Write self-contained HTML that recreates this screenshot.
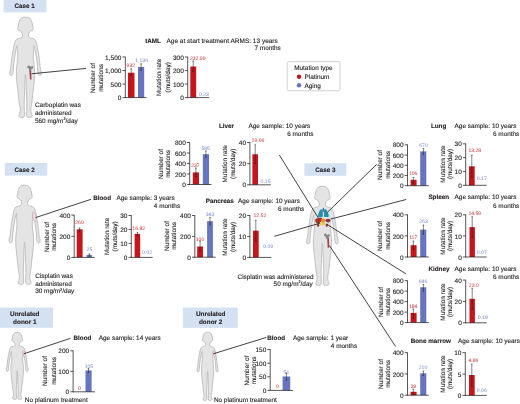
<!DOCTYPE html>
<html lang="en"><head><meta charset="utf-8"><title>Mutation burden figure</title>
<style>
html,body{margin:0;padding:0;background:#fff;}
body{width:520px;height:404px;overflow:hidden;}
svg{display:block;font-family:"Liberation Sans", Arial, Helvetica, sans-serif;text-rendering:geometricPrecision;}
</style></head><body>
<svg width="520" height="404" viewBox="0 0 520 404">
<rect x="0" y="0" width="520" height="404" fill="#ffffff"/>
<rect x="3.60" y="0.00" width="42.80" height="12.40" fill="#d3e1f3"/>
<text x="24.60" y="8.10" font-size="6.3" fill="#231f20" stroke="#231f20" stroke-width="0.12" text-anchor="middle" font-weight="700">Case 1</text>
<rect x="4.80" y="163.00" width="42.40" height="12.60" fill="#d3e1f3"/>
<text x="24.60" y="171.90" font-size="6.3" fill="#231f20" stroke="#231f20" stroke-width="0.12" text-anchor="middle" font-weight="700">Case 2</text>
<rect x="304.40" y="163.30" width="41.90" height="12.50" fill="#d3e1f3"/>
<text x="325.30" y="172.00" font-size="6.3" fill="#231f20" stroke="#231f20" stroke-width="0.12" text-anchor="middle" font-weight="700">Case 3</text>
<rect x="0.00" y="307.50" width="53.00" height="20.30" fill="#d3e1f3"/>
<text x="24.80" y="316.30" font-size="6.4" fill="#231f20" stroke="#231f20" stroke-width="0.12" text-anchor="middle" font-weight="700">Unrelated</text>
<text x="24.80" y="323.90" font-size="6.4" fill="#231f20" stroke="#231f20" stroke-width="0.12" text-anchor="middle" font-weight="700">donor 1</text>
<rect x="182.90" y="307.50" width="54.80" height="20.40" fill="#d3e1f3"/>
<text x="210.70" y="316.30" font-size="6.4" fill="#231f20" stroke="#231f20" stroke-width="0.12" text-anchor="middle" font-weight="700">Unrelated</text>
<text x="210.70" y="323.90" font-size="6.4" fill="#231f20" stroke="#231f20" stroke-width="0.12" text-anchor="middle" font-weight="700">donor 2</text>
<g transform="translate(25.50,17.20) scale(1.0000,1.0000)"><path d="M0.00,0.00C1.07,0.00 2.30,0.00 3.20,0.40C4.10,0.80 4.83,1.55 5.40,2.40C5.97,3.25 6.30,4.48 6.60,5.50C6.90,6.52 7.02,7.55 7.20,8.50C7.38,9.45 7.68,10.48 7.70,11.20C7.72,11.92 7.65,12.40 7.30,12.80C6.95,13.20 6.12,13.30 5.60,13.60C5.08,13.90 4.57,14.20 4.20,14.60C3.83,15.00 3.58,15.47 3.40,16.00C3.22,16.53 3.13,17.23 3.10,17.80C3.07,18.37 2.92,18.92 3.20,19.40C3.48,19.88 4.03,20.35 4.80,20.70C5.57,21.05 6.97,21.12 7.80,21.50C8.63,21.88 9.25,22.17 9.80,23.00C10.35,23.83 10.70,25.00 11.10,26.50C11.50,28.00 11.83,30.08 12.20,32.00C12.57,33.92 12.97,35.83 13.30,38.00C13.63,40.17 13.95,42.83 14.20,45.00C14.45,47.17 14.53,49.40 14.80,51.00C15.07,52.60 15.65,53.57 15.80,54.60C15.95,55.63 15.93,56.57 15.70,57.20C15.47,57.83 14.85,58.37 14.40,58.40C13.95,58.43 13.35,58.05 13.00,57.40C12.65,56.75 12.45,55.65 12.30,54.50C12.15,53.35 12.23,52.08 12.10,50.50C11.97,48.92 11.77,47.08 11.50,45.00C11.23,42.92 10.85,40.17 10.50,38.00C10.15,35.83 9.77,33.58 9.40,32.00C9.03,30.42 8.52,28.33 8.30,28.50C8.08,28.67 8.18,31.08 8.10,33.00C8.02,34.92 7.73,37.67 7.80,40.00C7.87,42.33 8.28,44.67 8.50,47.00C8.72,49.33 9.03,51.50 9.10,54.00C9.17,56.50 9.07,59.33 8.90,62.00C8.73,64.67 8.40,67.33 8.10,70.00C7.80,72.67 7.38,75.50 7.10,78.00C6.82,80.50 6.70,82.67 6.40,85.00C6.10,87.33 5.40,90.17 5.30,92.00C5.20,93.83 5.55,94.90 5.80,96.00C6.05,97.10 6.85,97.93 6.80,98.60C6.75,99.27 6.30,99.77 5.50,100.00C4.70,100.23 2.75,100.33 2.00,100.00C1.25,99.67 1.13,99.17 1.00,98.00C0.87,96.83 1.15,95.17 1.20,93.00C1.25,90.83 1.33,87.50 1.30,85.00C1.27,82.50 1.10,80.83 1.00,78.00C0.90,75.17 0.81,71.00 0.70,68.00C0.59,65.00 0.47,61.75 0.35,60.00C0.23,58.25 0.12,57.50 0.00,57.50C-0.12,57.50 -0.23,58.25 -0.35,60.00C-0.47,61.75 -0.59,65.00 -0.70,68.00C-0.81,71.00 -0.90,75.17 -1.00,78.00C-1.10,80.83 -1.27,82.50 -1.30,85.00C-1.33,87.50 -1.25,90.83 -1.20,93.00C-1.15,95.17 -0.87,96.83 -1.00,98.00C-1.13,99.17 -1.25,99.67 -2.00,100.00C-2.75,100.33 -4.70,100.23 -5.50,100.00C-6.30,99.77 -6.75,99.27 -6.80,98.60C-6.85,97.93 -6.05,97.10 -5.80,96.00C-5.55,94.90 -5.20,93.83 -5.30,92.00C-5.40,90.17 -6.10,87.33 -6.40,85.00C-6.70,82.67 -6.82,80.50 -7.10,78.00C-7.38,75.50 -7.80,72.67 -8.10,70.00C-8.40,67.33 -8.73,64.67 -8.90,62.00C-9.07,59.33 -9.17,56.50 -9.10,54.00C-9.03,51.50 -8.72,49.33 -8.50,47.00C-8.28,44.67 -7.87,42.33 -7.80,40.00C-7.73,37.67 -8.02,34.92 -8.10,33.00C-8.18,31.08 -8.08,28.67 -8.30,28.50C-8.52,28.33 -9.03,30.42 -9.40,32.00C-9.77,33.58 -10.15,35.83 -10.50,38.00C-10.85,40.17 -11.23,42.92 -11.50,45.00C-11.77,47.08 -11.97,48.92 -12.10,50.50C-12.23,52.08 -12.15,53.35 -12.30,54.50C-12.45,55.65 -12.65,56.75 -13.00,57.40C-13.35,58.05 -13.95,58.43 -14.40,58.40C-14.85,58.37 -15.47,57.83 -15.70,57.20C-15.93,56.57 -15.95,55.63 -15.80,54.60C-15.65,53.57 -15.07,52.60 -14.80,51.00C-14.53,49.40 -14.45,47.17 -14.20,45.00C-13.95,42.83 -13.63,40.17 -13.30,38.00C-12.97,35.83 -12.57,33.92 -12.20,32.00C-11.83,30.08 -11.50,28.00 -11.10,26.50C-10.70,25.00 -10.35,23.83 -9.80,23.00C-9.25,22.17 -8.63,21.88 -7.80,21.50C-6.97,21.12 -5.57,21.05 -4.80,20.70C-4.03,20.35 -3.48,19.88 -3.20,19.40C-2.92,18.92 -3.07,18.37 -3.10,17.80C-3.13,17.23 -3.22,16.53 -3.40,16.00C-3.58,15.47 -3.83,15.00 -4.20,14.60C-4.57,14.20 -5.08,13.90 -5.60,13.60C-6.12,13.30 -6.95,13.20 -7.30,12.80C-7.65,12.40 -7.72,11.92 -7.70,11.20C-7.68,10.48 -7.38,9.45 -7.20,8.50C-7.02,7.55 -6.90,6.52 -6.60,5.50C-6.30,4.48 -5.97,3.25 -5.40,2.40C-4.83,1.55 -4.10,0.80 -3.20,0.40C-2.30,0.00 -1.07,0.00 0.00,0.00Z" fill="#e4e4e4" stroke="#adadad" stroke-width="0.7" vector-effect="non-scaling-stroke" stroke-linejoin="round"/></g>
<g transform="translate(27.20,65.20) scale(1.0)"><path transform="translate(0.0,0)" d="M2.1,4.2 L3.9,4.2 L4.3,14.4 L2.7,14.4Z" fill="#a9414a"/><path d="M0.1,1.3 q0.7,-1.5 2.2,-0.7 q0.9,0.9 1.6,0.9 q0.8,-1.1 1.9,-0.3 q0.5,1.1 -0.3,2.0 l-1.5,1.2 l0,1.1 l-1.9,0 l-0.2,-1.2 q-0.2,-1.2 -1.1,-1.5 q-1,-0.5 -0.7,-1.5z" fill="#858585"/></g>
<g transform="translate(24.60,185.30) scale(0.9800,0.9880)"><path d="M0.00,0.00C1.07,0.00 2.30,0.00 3.20,0.40C4.10,0.80 4.83,1.55 5.40,2.40C5.97,3.25 6.30,4.48 6.60,5.50C6.90,6.52 7.02,7.55 7.20,8.50C7.38,9.45 7.68,10.48 7.70,11.20C7.72,11.92 7.65,12.40 7.30,12.80C6.95,13.20 6.12,13.30 5.60,13.60C5.08,13.90 4.57,14.20 4.20,14.60C3.83,15.00 3.58,15.47 3.40,16.00C3.22,16.53 3.13,17.23 3.10,17.80C3.07,18.37 2.92,18.92 3.20,19.40C3.48,19.88 4.03,20.35 4.80,20.70C5.57,21.05 6.97,21.12 7.80,21.50C8.63,21.88 9.25,22.17 9.80,23.00C10.35,23.83 10.70,25.00 11.10,26.50C11.50,28.00 11.83,30.08 12.20,32.00C12.57,33.92 12.97,35.83 13.30,38.00C13.63,40.17 13.95,42.83 14.20,45.00C14.45,47.17 14.53,49.40 14.80,51.00C15.07,52.60 15.65,53.57 15.80,54.60C15.95,55.63 15.93,56.57 15.70,57.20C15.47,57.83 14.85,58.37 14.40,58.40C13.95,58.43 13.35,58.05 13.00,57.40C12.65,56.75 12.45,55.65 12.30,54.50C12.15,53.35 12.23,52.08 12.10,50.50C11.97,48.92 11.77,47.08 11.50,45.00C11.23,42.92 10.85,40.17 10.50,38.00C10.15,35.83 9.77,33.58 9.40,32.00C9.03,30.42 8.52,28.33 8.30,28.50C8.08,28.67 8.18,31.08 8.10,33.00C8.02,34.92 7.73,37.67 7.80,40.00C7.87,42.33 8.28,44.67 8.50,47.00C8.72,49.33 9.03,51.50 9.10,54.00C9.17,56.50 9.07,59.33 8.90,62.00C8.73,64.67 8.40,67.33 8.10,70.00C7.80,72.67 7.38,75.50 7.10,78.00C6.82,80.50 6.70,82.67 6.40,85.00C6.10,87.33 5.40,90.17 5.30,92.00C5.20,93.83 5.55,94.90 5.80,96.00C6.05,97.10 6.85,97.93 6.80,98.60C6.75,99.27 6.30,99.77 5.50,100.00C4.70,100.23 2.75,100.33 2.00,100.00C1.25,99.67 1.13,99.17 1.00,98.00C0.87,96.83 1.15,95.17 1.20,93.00C1.25,90.83 1.33,87.50 1.30,85.00C1.27,82.50 1.10,80.83 1.00,78.00C0.90,75.17 0.81,71.00 0.70,68.00C0.59,65.00 0.47,61.75 0.35,60.00C0.23,58.25 0.12,57.50 0.00,57.50C-0.12,57.50 -0.23,58.25 -0.35,60.00C-0.47,61.75 -0.59,65.00 -0.70,68.00C-0.81,71.00 -0.90,75.17 -1.00,78.00C-1.10,80.83 -1.27,82.50 -1.30,85.00C-1.33,87.50 -1.25,90.83 -1.20,93.00C-1.15,95.17 -0.87,96.83 -1.00,98.00C-1.13,99.17 -1.25,99.67 -2.00,100.00C-2.75,100.33 -4.70,100.23 -5.50,100.00C-6.30,99.77 -6.75,99.27 -6.80,98.60C-6.85,97.93 -6.05,97.10 -5.80,96.00C-5.55,94.90 -5.20,93.83 -5.30,92.00C-5.40,90.17 -6.10,87.33 -6.40,85.00C-6.70,82.67 -6.82,80.50 -7.10,78.00C-7.38,75.50 -7.80,72.67 -8.10,70.00C-8.40,67.33 -8.73,64.67 -8.90,62.00C-9.07,59.33 -9.17,56.50 -9.10,54.00C-9.03,51.50 -8.72,49.33 -8.50,47.00C-8.28,44.67 -7.87,42.33 -7.80,40.00C-7.73,37.67 -8.02,34.92 -8.10,33.00C-8.18,31.08 -8.08,28.67 -8.30,28.50C-8.52,28.33 -9.03,30.42 -9.40,32.00C-9.77,33.58 -10.15,35.83 -10.50,38.00C-10.85,40.17 -11.23,42.92 -11.50,45.00C-11.77,47.08 -11.97,48.92 -12.10,50.50C-12.23,52.08 -12.15,53.35 -12.30,54.50C-12.45,55.65 -12.65,56.75 -13.00,57.40C-13.35,58.05 -13.95,58.43 -14.40,58.40C-14.85,58.37 -15.47,57.83 -15.70,57.20C-15.93,56.57 -15.95,55.63 -15.80,54.60C-15.65,53.57 -15.07,52.60 -14.80,51.00C-14.53,49.40 -14.45,47.17 -14.20,45.00C-13.95,42.83 -13.63,40.17 -13.30,38.00C-12.97,35.83 -12.57,33.92 -12.20,32.00C-11.83,30.08 -11.50,28.00 -11.10,26.50C-10.70,25.00 -10.35,23.83 -9.80,23.00C-9.25,22.17 -8.63,21.88 -7.80,21.50C-6.97,21.12 -5.57,21.05 -4.80,20.70C-4.03,20.35 -3.48,19.88 -3.20,19.40C-2.92,18.92 -3.07,18.37 -3.10,17.80C-3.13,17.23 -3.22,16.53 -3.40,16.00C-3.58,15.47 -3.83,15.00 -4.20,14.60C-4.57,14.20 -5.08,13.90 -5.60,13.60C-6.12,13.30 -6.95,13.20 -7.30,12.80C-7.65,12.40 -7.72,11.92 -7.70,11.20C-7.68,10.48 -7.38,9.45 -7.20,8.50C-7.02,7.55 -6.90,6.52 -6.60,5.50C-6.30,4.48 -5.97,3.25 -5.40,2.40C-4.83,1.55 -4.10,0.80 -3.20,0.40C-2.30,0.00 -1.07,0.00 0.00,0.00Z" fill="#e4e4e4" stroke="#adadad" stroke-width="0.7" vector-effect="non-scaling-stroke" stroke-linejoin="round"/><ellipse cx="9.9" cy="31.8" rx="1.5" ry="5.2" transform="rotate(-9 9.9 31.8)" fill="#eedde1" stroke="#d890a2" stroke-width="0.45" vector-effect="non-scaling-stroke"/></g>
<g transform="translate(17.20,332.50) scale(0.6900,0.6670)"><path d="M0.00,0.00C1.07,0.00 2.30,0.00 3.20,0.40C4.10,0.80 4.83,1.55 5.40,2.40C5.97,3.25 6.30,4.48 6.60,5.50C6.90,6.52 7.02,7.55 7.20,8.50C7.38,9.45 7.68,10.48 7.70,11.20C7.72,11.92 7.65,12.40 7.30,12.80C6.95,13.20 6.12,13.30 5.60,13.60C5.08,13.90 4.57,14.20 4.20,14.60C3.83,15.00 3.58,15.47 3.40,16.00C3.22,16.53 3.13,17.23 3.10,17.80C3.07,18.37 2.92,18.92 3.20,19.40C3.48,19.88 4.03,20.35 4.80,20.70C5.57,21.05 6.97,21.12 7.80,21.50C8.63,21.88 9.25,22.17 9.80,23.00C10.35,23.83 10.70,25.00 11.10,26.50C11.50,28.00 11.83,30.08 12.20,32.00C12.57,33.92 12.97,35.83 13.30,38.00C13.63,40.17 13.95,42.83 14.20,45.00C14.45,47.17 14.53,49.40 14.80,51.00C15.07,52.60 15.65,53.57 15.80,54.60C15.95,55.63 15.93,56.57 15.70,57.20C15.47,57.83 14.85,58.37 14.40,58.40C13.95,58.43 13.35,58.05 13.00,57.40C12.65,56.75 12.45,55.65 12.30,54.50C12.15,53.35 12.23,52.08 12.10,50.50C11.97,48.92 11.77,47.08 11.50,45.00C11.23,42.92 10.85,40.17 10.50,38.00C10.15,35.83 9.77,33.58 9.40,32.00C9.03,30.42 8.52,28.33 8.30,28.50C8.08,28.67 8.18,31.08 8.10,33.00C8.02,34.92 7.73,37.67 7.80,40.00C7.87,42.33 8.28,44.67 8.50,47.00C8.72,49.33 9.03,51.50 9.10,54.00C9.17,56.50 9.07,59.33 8.90,62.00C8.73,64.67 8.40,67.33 8.10,70.00C7.80,72.67 7.38,75.50 7.10,78.00C6.82,80.50 6.70,82.67 6.40,85.00C6.10,87.33 5.40,90.17 5.30,92.00C5.20,93.83 5.55,94.90 5.80,96.00C6.05,97.10 6.85,97.93 6.80,98.60C6.75,99.27 6.30,99.77 5.50,100.00C4.70,100.23 2.75,100.33 2.00,100.00C1.25,99.67 1.13,99.17 1.00,98.00C0.87,96.83 1.15,95.17 1.20,93.00C1.25,90.83 1.33,87.50 1.30,85.00C1.27,82.50 1.10,80.83 1.00,78.00C0.90,75.17 0.81,71.00 0.70,68.00C0.59,65.00 0.47,61.75 0.35,60.00C0.23,58.25 0.12,57.50 0.00,57.50C-0.12,57.50 -0.23,58.25 -0.35,60.00C-0.47,61.75 -0.59,65.00 -0.70,68.00C-0.81,71.00 -0.90,75.17 -1.00,78.00C-1.10,80.83 -1.27,82.50 -1.30,85.00C-1.33,87.50 -1.25,90.83 -1.20,93.00C-1.15,95.17 -0.87,96.83 -1.00,98.00C-1.13,99.17 -1.25,99.67 -2.00,100.00C-2.75,100.33 -4.70,100.23 -5.50,100.00C-6.30,99.77 -6.75,99.27 -6.80,98.60C-6.85,97.93 -6.05,97.10 -5.80,96.00C-5.55,94.90 -5.20,93.83 -5.30,92.00C-5.40,90.17 -6.10,87.33 -6.40,85.00C-6.70,82.67 -6.82,80.50 -7.10,78.00C-7.38,75.50 -7.80,72.67 -8.10,70.00C-8.40,67.33 -8.73,64.67 -8.90,62.00C-9.07,59.33 -9.17,56.50 -9.10,54.00C-9.03,51.50 -8.72,49.33 -8.50,47.00C-8.28,44.67 -7.87,42.33 -7.80,40.00C-7.73,37.67 -8.02,34.92 -8.10,33.00C-8.18,31.08 -8.08,28.67 -8.30,28.50C-8.52,28.33 -9.03,30.42 -9.40,32.00C-9.77,33.58 -10.15,35.83 -10.50,38.00C-10.85,40.17 -11.23,42.92 -11.50,45.00C-11.77,47.08 -11.97,48.92 -12.10,50.50C-12.23,52.08 -12.15,53.35 -12.30,54.50C-12.45,55.65 -12.65,56.75 -13.00,57.40C-13.35,58.05 -13.95,58.43 -14.40,58.40C-14.85,58.37 -15.47,57.83 -15.70,57.20C-15.93,56.57 -15.95,55.63 -15.80,54.60C-15.65,53.57 -15.07,52.60 -14.80,51.00C-14.53,49.40 -14.45,47.17 -14.20,45.00C-13.95,42.83 -13.63,40.17 -13.30,38.00C-12.97,35.83 -12.57,33.92 -12.20,32.00C-11.83,30.08 -11.50,28.00 -11.10,26.50C-10.70,25.00 -10.35,23.83 -9.80,23.00C-9.25,22.17 -8.63,21.88 -7.80,21.50C-6.97,21.12 -5.57,21.05 -4.80,20.70C-4.03,20.35 -3.48,19.88 -3.20,19.40C-2.92,18.92 -3.07,18.37 -3.10,17.80C-3.13,17.23 -3.22,16.53 -3.40,16.00C-3.58,15.47 -3.83,15.00 -4.20,14.60C-4.57,14.20 -5.08,13.90 -5.60,13.60C-6.12,13.30 -6.95,13.20 -7.30,12.80C-7.65,12.40 -7.72,11.92 -7.70,11.20C-7.68,10.48 -7.38,9.45 -7.20,8.50C-7.02,7.55 -6.90,6.52 -6.60,5.50C-6.30,4.48 -5.97,3.25 -5.40,2.40C-4.83,1.55 -4.10,0.80 -3.20,0.40C-2.30,0.00 -1.07,0.00 0.00,0.00Z" fill="#e4e4e4" stroke="#adadad" stroke-width="0.7" vector-effect="non-scaling-stroke" stroke-linejoin="round"/><ellipse cx="9.9" cy="31.8" rx="1.5" ry="5.2" transform="rotate(-9 9.9 31.8)" fill="#eedde1" stroke="#d890a2" stroke-width="0.45" vector-effect="non-scaling-stroke"/></g>
<g transform="translate(207.60,332.30) scale(0.6700,0.6800)"><path d="M0.00,0.00C1.07,0.00 2.30,0.00 3.20,0.40C4.10,0.80 4.83,1.55 5.40,2.40C5.97,3.25 6.30,4.48 6.60,5.50C6.90,6.52 7.02,7.55 7.20,8.50C7.38,9.45 7.68,10.48 7.70,11.20C7.72,11.92 7.65,12.40 7.30,12.80C6.95,13.20 6.12,13.30 5.60,13.60C5.08,13.90 4.57,14.20 4.20,14.60C3.83,15.00 3.58,15.47 3.40,16.00C3.22,16.53 3.13,17.23 3.10,17.80C3.07,18.37 2.92,18.92 3.20,19.40C3.48,19.88 4.03,20.35 4.80,20.70C5.57,21.05 6.97,21.12 7.80,21.50C8.63,21.88 9.25,22.17 9.80,23.00C10.35,23.83 10.70,25.00 11.10,26.50C11.50,28.00 11.83,30.08 12.20,32.00C12.57,33.92 12.97,35.83 13.30,38.00C13.63,40.17 13.95,42.83 14.20,45.00C14.45,47.17 14.53,49.40 14.80,51.00C15.07,52.60 15.65,53.57 15.80,54.60C15.95,55.63 15.93,56.57 15.70,57.20C15.47,57.83 14.85,58.37 14.40,58.40C13.95,58.43 13.35,58.05 13.00,57.40C12.65,56.75 12.45,55.65 12.30,54.50C12.15,53.35 12.23,52.08 12.10,50.50C11.97,48.92 11.77,47.08 11.50,45.00C11.23,42.92 10.85,40.17 10.50,38.00C10.15,35.83 9.77,33.58 9.40,32.00C9.03,30.42 8.52,28.33 8.30,28.50C8.08,28.67 8.18,31.08 8.10,33.00C8.02,34.92 7.73,37.67 7.80,40.00C7.87,42.33 8.28,44.67 8.50,47.00C8.72,49.33 9.03,51.50 9.10,54.00C9.17,56.50 9.07,59.33 8.90,62.00C8.73,64.67 8.40,67.33 8.10,70.00C7.80,72.67 7.38,75.50 7.10,78.00C6.82,80.50 6.70,82.67 6.40,85.00C6.10,87.33 5.40,90.17 5.30,92.00C5.20,93.83 5.55,94.90 5.80,96.00C6.05,97.10 6.85,97.93 6.80,98.60C6.75,99.27 6.30,99.77 5.50,100.00C4.70,100.23 2.75,100.33 2.00,100.00C1.25,99.67 1.13,99.17 1.00,98.00C0.87,96.83 1.15,95.17 1.20,93.00C1.25,90.83 1.33,87.50 1.30,85.00C1.27,82.50 1.10,80.83 1.00,78.00C0.90,75.17 0.81,71.00 0.70,68.00C0.59,65.00 0.47,61.75 0.35,60.00C0.23,58.25 0.12,57.50 0.00,57.50C-0.12,57.50 -0.23,58.25 -0.35,60.00C-0.47,61.75 -0.59,65.00 -0.70,68.00C-0.81,71.00 -0.90,75.17 -1.00,78.00C-1.10,80.83 -1.27,82.50 -1.30,85.00C-1.33,87.50 -1.25,90.83 -1.20,93.00C-1.15,95.17 -0.87,96.83 -1.00,98.00C-1.13,99.17 -1.25,99.67 -2.00,100.00C-2.75,100.33 -4.70,100.23 -5.50,100.00C-6.30,99.77 -6.75,99.27 -6.80,98.60C-6.85,97.93 -6.05,97.10 -5.80,96.00C-5.55,94.90 -5.20,93.83 -5.30,92.00C-5.40,90.17 -6.10,87.33 -6.40,85.00C-6.70,82.67 -6.82,80.50 -7.10,78.00C-7.38,75.50 -7.80,72.67 -8.10,70.00C-8.40,67.33 -8.73,64.67 -8.90,62.00C-9.07,59.33 -9.17,56.50 -9.10,54.00C-9.03,51.50 -8.72,49.33 -8.50,47.00C-8.28,44.67 -7.87,42.33 -7.80,40.00C-7.73,37.67 -8.02,34.92 -8.10,33.00C-8.18,31.08 -8.08,28.67 -8.30,28.50C-8.52,28.33 -9.03,30.42 -9.40,32.00C-9.77,33.58 -10.15,35.83 -10.50,38.00C-10.85,40.17 -11.23,42.92 -11.50,45.00C-11.77,47.08 -11.97,48.92 -12.10,50.50C-12.23,52.08 -12.15,53.35 -12.30,54.50C-12.45,55.65 -12.65,56.75 -13.00,57.40C-13.35,58.05 -13.95,58.43 -14.40,58.40C-14.85,58.37 -15.47,57.83 -15.70,57.20C-15.93,56.57 -15.95,55.63 -15.80,54.60C-15.65,53.57 -15.07,52.60 -14.80,51.00C-14.53,49.40 -14.45,47.17 -14.20,45.00C-13.95,42.83 -13.63,40.17 -13.30,38.00C-12.97,35.83 -12.57,33.92 -12.20,32.00C-11.83,30.08 -11.50,28.00 -11.10,26.50C-10.70,25.00 -10.35,23.83 -9.80,23.00C-9.25,22.17 -8.63,21.88 -7.80,21.50C-6.97,21.12 -5.57,21.05 -4.80,20.70C-4.03,20.35 -3.48,19.88 -3.20,19.40C-2.92,18.92 -3.07,18.37 -3.10,17.80C-3.13,17.23 -3.22,16.53 -3.40,16.00C-3.58,15.47 -3.83,15.00 -4.20,14.60C-4.57,14.20 -5.08,13.90 -5.60,13.60C-6.12,13.30 -6.95,13.20 -7.30,12.80C-7.65,12.40 -7.72,11.92 -7.70,11.20C-7.68,10.48 -7.38,9.45 -7.20,8.50C-7.02,7.55 -6.90,6.52 -6.60,5.50C-6.30,4.48 -5.97,3.25 -5.40,2.40C-4.83,1.55 -4.10,0.80 -3.20,0.40C-2.30,0.00 -1.07,0.00 0.00,0.00Z" fill="#e4e4e4" stroke="#adadad" stroke-width="0.7" vector-effect="non-scaling-stroke" stroke-linejoin="round"/><ellipse cx="9.9" cy="31.8" rx="1.5" ry="5.2" transform="rotate(-9 9.9 31.8)" fill="#eedde1" stroke="#d890a2" stroke-width="0.45" vector-effect="non-scaling-stroke"/></g>
<g transform="translate(322.40,186.40) scale(1.0000,0.9880)"><path d="M0.00,0.00C1.07,0.00 2.30,0.00 3.20,0.40C4.10,0.80 4.83,1.55 5.40,2.40C5.97,3.25 6.30,4.48 6.60,5.50C6.90,6.52 7.02,7.55 7.20,8.50C7.38,9.45 7.68,10.48 7.70,11.20C7.72,11.92 7.65,12.40 7.30,12.80C6.95,13.20 6.12,13.30 5.60,13.60C5.08,13.90 4.57,14.20 4.20,14.60C3.83,15.00 3.58,15.47 3.40,16.00C3.22,16.53 3.13,17.23 3.10,17.80C3.07,18.37 2.92,18.92 3.20,19.40C3.48,19.88 4.03,20.35 4.80,20.70C5.57,21.05 6.97,21.12 7.80,21.50C8.63,21.88 9.25,22.17 9.80,23.00C10.35,23.83 10.70,25.00 11.10,26.50C11.50,28.00 11.83,30.08 12.20,32.00C12.57,33.92 12.97,35.83 13.30,38.00C13.63,40.17 13.95,42.83 14.20,45.00C14.45,47.17 14.53,49.40 14.80,51.00C15.07,52.60 15.65,53.57 15.80,54.60C15.95,55.63 15.93,56.57 15.70,57.20C15.47,57.83 14.85,58.37 14.40,58.40C13.95,58.43 13.35,58.05 13.00,57.40C12.65,56.75 12.45,55.65 12.30,54.50C12.15,53.35 12.23,52.08 12.10,50.50C11.97,48.92 11.77,47.08 11.50,45.00C11.23,42.92 10.85,40.17 10.50,38.00C10.15,35.83 9.77,33.58 9.40,32.00C9.03,30.42 8.52,28.33 8.30,28.50C8.08,28.67 8.18,31.08 8.10,33.00C8.02,34.92 7.73,37.67 7.80,40.00C7.87,42.33 8.28,44.67 8.50,47.00C8.72,49.33 9.03,51.50 9.10,54.00C9.17,56.50 9.07,59.33 8.90,62.00C8.73,64.67 8.40,67.33 8.10,70.00C7.80,72.67 7.38,75.50 7.10,78.00C6.82,80.50 6.70,82.67 6.40,85.00C6.10,87.33 5.40,90.17 5.30,92.00C5.20,93.83 5.55,94.90 5.80,96.00C6.05,97.10 6.85,97.93 6.80,98.60C6.75,99.27 6.30,99.77 5.50,100.00C4.70,100.23 2.75,100.33 2.00,100.00C1.25,99.67 1.13,99.17 1.00,98.00C0.87,96.83 1.15,95.17 1.20,93.00C1.25,90.83 1.33,87.50 1.30,85.00C1.27,82.50 1.10,80.83 1.00,78.00C0.90,75.17 0.81,71.00 0.70,68.00C0.59,65.00 0.47,61.75 0.35,60.00C0.23,58.25 0.12,57.50 0.00,57.50C-0.12,57.50 -0.23,58.25 -0.35,60.00C-0.47,61.75 -0.59,65.00 -0.70,68.00C-0.81,71.00 -0.90,75.17 -1.00,78.00C-1.10,80.83 -1.27,82.50 -1.30,85.00C-1.33,87.50 -1.25,90.83 -1.20,93.00C-1.15,95.17 -0.87,96.83 -1.00,98.00C-1.13,99.17 -1.25,99.67 -2.00,100.00C-2.75,100.33 -4.70,100.23 -5.50,100.00C-6.30,99.77 -6.75,99.27 -6.80,98.60C-6.85,97.93 -6.05,97.10 -5.80,96.00C-5.55,94.90 -5.20,93.83 -5.30,92.00C-5.40,90.17 -6.10,87.33 -6.40,85.00C-6.70,82.67 -6.82,80.50 -7.10,78.00C-7.38,75.50 -7.80,72.67 -8.10,70.00C-8.40,67.33 -8.73,64.67 -8.90,62.00C-9.07,59.33 -9.17,56.50 -9.10,54.00C-9.03,51.50 -8.72,49.33 -8.50,47.00C-8.28,44.67 -7.87,42.33 -7.80,40.00C-7.73,37.67 -8.02,34.92 -8.10,33.00C-8.18,31.08 -8.08,28.67 -8.30,28.50C-8.52,28.33 -9.03,30.42 -9.40,32.00C-9.77,33.58 -10.15,35.83 -10.50,38.00C-10.85,40.17 -11.23,42.92 -11.50,45.00C-11.77,47.08 -11.97,48.92 -12.10,50.50C-12.23,52.08 -12.15,53.35 -12.30,54.50C-12.45,55.65 -12.65,56.75 -13.00,57.40C-13.35,58.05 -13.95,58.43 -14.40,58.40C-14.85,58.37 -15.47,57.83 -15.70,57.20C-15.93,56.57 -15.95,55.63 -15.80,54.60C-15.65,53.57 -15.07,52.60 -14.80,51.00C-14.53,49.40 -14.45,47.17 -14.20,45.00C-13.95,42.83 -13.63,40.17 -13.30,38.00C-12.97,35.83 -12.57,33.92 -12.20,32.00C-11.83,30.08 -11.50,28.00 -11.10,26.50C-10.70,25.00 -10.35,23.83 -9.80,23.00C-9.25,22.17 -8.63,21.88 -7.80,21.50C-6.97,21.12 -5.57,21.05 -4.80,20.70C-4.03,20.35 -3.48,19.88 -3.20,19.40C-2.92,18.92 -3.07,18.37 -3.10,17.80C-3.13,17.23 -3.22,16.53 -3.40,16.00C-3.58,15.47 -3.83,15.00 -4.20,14.60C-4.57,14.20 -5.08,13.90 -5.60,13.60C-6.12,13.30 -6.95,13.20 -7.30,12.80C-7.65,12.40 -7.72,11.92 -7.70,11.20C-7.68,10.48 -7.38,9.45 -7.20,8.50C-7.02,7.55 -6.90,6.52 -6.60,5.50C-6.30,4.48 -5.97,3.25 -5.40,2.40C-4.83,1.55 -4.10,0.80 -3.20,0.40C-2.30,0.00 -1.07,0.00 0.00,0.00Z" fill="#e4e4e4" stroke="#adadad" stroke-width="0.7" vector-effect="non-scaling-stroke" stroke-linejoin="round"/></g>
<path d="M322.7,209.0 C320.4,209.2 318.4,211.8 317.9,216.6 C319.6,217.4 321.6,217.2 322.8,216.5ZM324.1,209.0 C326.4,209.2 328.4,211.8 328.9,216.6 C327.2,217.4 325.2,217.2 324.0,216.5Z" fill="#c5e6ec" stroke="#c5e6ec" stroke-width="1.6" stroke-linejoin="round"/>
<path d="M329.6,212.4 q2.6,1.2 3.2,4.8 l-2.6,0.6z" fill="#d4ecef"/>
<path d="M316.8,212.4 q-2.4,1.2 -3,4.8 l2.4,0.6z" fill="#f3dede"/>
<path d="M322.7,209.0 C320.4,209.2 318.4,211.8 317.9,216.6 C319.6,217.4 321.6,217.2 322.8,216.5ZM324.1,209.0 C326.4,209.2 328.4,211.8 328.9,216.6 C327.2,217.4 325.2,217.2 324.0,216.5Z" fill="#2a8ba6"/>
<rect x="322.95" y="207.8" width="0.9" height="4" fill="#1f6f88"/>
<path d="M315.2,219.4 C317,217.6 320,217.4 322,218 C322.4,220.4 321,222.6 318.4,223.4 C316.4,223.6 315,222 315.2,219.4Z" fill="#a6322a"/>
<ellipse cx="323.2" cy="220.7" rx="2.2" ry="2.3" fill="#e8902c"/>
<ellipse cx="322.7" cy="223.9" rx="2.8" ry="1.3" fill="#f2c84b"/>
<ellipse cx="328.0" cy="220.6" rx="2.4" ry="1.8" fill="#8b2f3c"/>
<ellipse cx="318.1" cy="225.2" rx="1.15" ry="1.6" fill="#8c3b2c"/>
<ellipse cx="326.8" cy="225.2" rx="1.15" ry="1.6" fill="#8c3b2c"/>
<g transform="translate(323.90,233.30) scale(1.0)"><path transform="translate(1.1,0)" d="M2.1,4.2 L3.9,4.2 L4.3,14.4 L2.7,14.4Z" fill="#a9414a"/><path d="M0.1,1.3 q0.7,-1.5 2.2,-0.7 q0.9,0.9 1.6,0.9 q0.8,-1.1 1.9,-0.3 q0.5,1.1 -0.3,2.0 l-1.5,1.2 l0,1.1 l-1.9,0 l-0.2,-1.2 q-0.2,-1.2 -1.1,-1.5 q-1,-0.5 -0.7,-1.5z" fill="#858585"/></g>
<line x1="31.60" y1="73.80" x2="86.00" y2="68.40" stroke="#231f20" stroke-width="0.85" stroke-linecap="butt"/>
<line x1="35.60" y1="217.60" x2="91.00" y2="199.30" stroke="#231f20" stroke-width="0.85" stroke-linecap="butt"/>
<line x1="23.80" y1="353.80" x2="70.30" y2="338.40" stroke="#231f20" stroke-width="0.85" stroke-linecap="butt"/>
<line x1="213.30" y1="353.80" x2="266.40" y2="337.40" stroke="#231f20" stroke-width="0.85" stroke-linecap="butt"/>
<line x1="279.30" y1="154.90" x2="318.20" y2="217.80" stroke="#231f20" stroke-width="0.85" stroke-linecap="butt"/>
<line x1="274.30" y1="236.30" x2="320.00" y2="223.20" stroke="#231f20" stroke-width="0.85" stroke-linecap="butt"/>
<line x1="327.50" y1="212.30" x2="376.70" y2="164.30" stroke="#231f20" stroke-width="0.85" stroke-linecap="butt"/>
<line x1="331.00" y1="219.00" x2="406.20" y2="199.50" stroke="#231f20" stroke-width="0.85" stroke-linecap="butt"/>
<line x1="327.00" y1="224.40" x2="406.20" y2="274.00" stroke="#231f20" stroke-width="0.85" stroke-linecap="butt"/>
<line x1="329.50" y1="245.60" x2="395.60" y2="346.50" stroke="#231f20" stroke-width="0.85" stroke-linecap="butt"/>
<text x="35.00" y="107.00" font-size="6.4" fill="#231f20" stroke="#231f20" stroke-width="0.12" text-anchor="start">Carboplatin was</text>
<text x="35.00" y="114.80" font-size="6.4" fill="#231f20" stroke="#231f20" stroke-width="0.12" text-anchor="start">administered</text>
<text x="35" y="122.5" font-size="6.4" fill="#231f20" stroke="#231f20" stroke-width="0.12">560 mg/m<tspan font-size="3.8" dy="-2.4">2</tspan><tspan dy="2.4">/day</tspan></text>
<text x="35.20" y="277.90" font-size="6.4" fill="#231f20" stroke="#231f20" stroke-width="0.12" text-anchor="start">Cisplatin was</text>
<text x="35.20" y="285.60" font-size="6.4" fill="#231f20" stroke="#231f20" stroke-width="0.12" text-anchor="start">administered</text>
<text x="35.2" y="293.1" font-size="6.4" fill="#231f20" stroke="#231f20" stroke-width="0.12">30 mg/m<tspan font-size="3.8" dy="-2.4">2</tspan><tspan dy="2.4">/day</tspan></text>
<text x="313.60" y="278.50" font-size="6.4" fill="#231f20" stroke="#231f20" stroke-width="0.12" text-anchor="end">Cisplatin was administered</text>
<text x="273.6" y="285.8" font-size="6.4" fill="#231f20" stroke="#231f20" stroke-width="0.12">50 mg/m<tspan font-size="3.8" dy="-2.4">2</tspan><tspan dy="2.4">/day</tspan></text>
<text x="24.80" y="402.20" font-size="6.4" fill="#231f20" stroke="#231f20" stroke-width="0.12" text-anchor="start">No platinum treatment</text>
<text x="213.90" y="401.70" font-size="6.4" fill="#231f20" stroke="#231f20" stroke-width="0.12" text-anchor="start">No platinum treatment</text>
<text x="145.20" y="43.30" font-size="6.3" fill="#231f20" stroke="#231f20" stroke-width="0.12" text-anchor="start" font-weight="700">tAML</text>
<text x="166.50" y="43.30" font-size="6.5" fill="#231f20" stroke="#231f20" stroke-width="0.12" text-anchor="start">Age at start treatment ARMS: 13 years</text>
<text x="254.50" y="50.20" font-size="6.4" fill="#231f20" stroke="#231f20" stroke-width="0.12" text-anchor="start">7 months</text>
<text x="218.90" y="127.90" font-size="6.3" fill="#231f20" stroke="#231f20" stroke-width="0.12" text-anchor="start" font-weight="700">Liver</text>
<text x="248.50" y="127.90" font-size="6.4" fill="#231f20" stroke="#231f20" stroke-width="0.12" text-anchor="start">Age sample: 10 years</text>
<text x="287.20" y="135.90" font-size="6.4" fill="#231f20" stroke="#231f20" stroke-width="0.12" text-anchor="start">6 months</text>
<text x="93.20" y="200.30" font-size="6.3" fill="#231f20" stroke="#231f20" stroke-width="0.12" text-anchor="start" font-weight="700">Blood</text>
<text x="116.40" y="200.30" font-size="6.4" fill="#231f20" stroke="#231f20" stroke-width="0.12" text-anchor="start">Age sample: 3 years</text>
<text x="153.80" y="208.20" font-size="6.4" fill="#231f20" stroke="#231f20" stroke-width="0.12" text-anchor="start">4 months</text>
<text x="205.70" y="202.50" font-size="6.3" fill="#231f20" stroke="#231f20" stroke-width="0.12" text-anchor="start" font-weight="700">Pancreas</text>
<text x="238.10" y="202.50" font-size="6.4" fill="#231f20" stroke="#231f20" stroke-width="0.12" text-anchor="start">Age sample: 10 years</text>
<text x="278.00" y="210.50" font-size="6.4" fill="#231f20" stroke="#231f20" stroke-width="0.12" text-anchor="start">6 months</text>
<text x="430.90" y="127.90" font-size="6.3" fill="#231f20" stroke="#231f20" stroke-width="0.12" text-anchor="start" font-weight="700">Lung</text>
<text x="454.60" y="127.90" font-size="6.4" fill="#231f20" stroke="#231f20" stroke-width="0.12" text-anchor="start">Age sample: 10 years</text>
<text x="493.00" y="135.50" font-size="6.4" fill="#231f20" stroke="#231f20" stroke-width="0.12" text-anchor="start">6 months</text>
<text x="428.40" y="199.40" font-size="6.3" fill="#231f20" stroke="#231f20" stroke-width="0.12" text-anchor="start" font-weight="700">Spleen</text>
<text x="454.60" y="199.40" font-size="6.4" fill="#231f20" stroke="#231f20" stroke-width="0.12" text-anchor="start">Age sample: 10 years</text>
<text x="493.00" y="208.00" font-size="6.4" fill="#231f20" stroke="#231f20" stroke-width="0.12" text-anchor="start">6 months</text>
<text x="428.40" y="270.60" font-size="6.3" fill="#231f20" stroke="#231f20" stroke-width="0.12" text-anchor="start" font-weight="700">Kidney</text>
<text x="454.60" y="270.60" font-size="6.4" fill="#231f20" stroke="#231f20" stroke-width="0.12" text-anchor="start">Age sample: 10 years</text>
<text x="493.00" y="279.30" font-size="6.4" fill="#231f20" stroke="#231f20" stroke-width="0.12" text-anchor="start">6 months</text>
<text x="410.70" y="343.00" font-size="6.3" fill="#231f20" stroke="#231f20" stroke-width="0.12" text-anchor="start" font-weight="700">Bone marrow</text>
<text x="458.10" y="343.00" font-size="6.4" fill="#231f20" stroke="#231f20" stroke-width="0.12" text-anchor="start">Age sample: 10 years</text>
<text x="73.50" y="340.00" font-size="6.3" fill="#231f20" stroke="#231f20" stroke-width="0.12" text-anchor="start" font-weight="700">Blood</text>
<text x="98.80" y="340.00" font-size="6.4" fill="#231f20" stroke="#231f20" stroke-width="0.12" text-anchor="start">Age sample: 14 years</text>
<text x="267.30" y="339.50" font-size="6.3" fill="#231f20" stroke="#231f20" stroke-width="0.12" text-anchor="start" font-weight="700">Blood</text>
<text x="293.10" y="339.50" font-size="6.4" fill="#231f20" stroke="#231f20" stroke-width="0.12" text-anchor="start">Age sample: 1 year</text>
<text x="330.80" y="347.70" font-size="6.4" fill="#231f20" stroke="#231f20" stroke-width="0.12" text-anchor="start">4 months</text>
<rect x="287.2" y="61.6" width="52.8" height="29.2" rx="2" ry="2" fill="#ffffff" stroke="#bdbdbd" stroke-width="0.7"/>
<text x="313.40" y="70.00" font-size="6.4" fill="#231f20" stroke="#231f20" stroke-width="0.12" text-anchor="middle">Mutation type</text>
<circle cx="299" cy="76.7" r="2.2" fill="#c4161c"/>
<text x="304.50" y="78.90" font-size="6.4" fill="#231f20" stroke="#231f20" stroke-width="0.12" text-anchor="start">Platinum</text>
<circle cx="299" cy="85.3" r="2.2" fill="#6675bd"/>
<text x="304.50" y="87.50" font-size="6.4" fill="#231f20" stroke="#231f20" stroke-width="0.12" text-anchor="start">Aging</text>
<rect x="128.00" y="72.70" width="6.50" height="24.90" fill="#c4161c"/>
<rect x="138.00" y="67.00" width="6.20" height="30.60" fill="#6675bd"/>
<line x1="131.20" y1="68.80" x2="131.20" y2="75.80" stroke="#231f20" stroke-width="0.55" stroke-linecap="butt"/>
<line x1="130.35" y1="68.80" x2="132.05" y2="68.80" stroke="#231f20" stroke-width="0.55" stroke-linecap="butt"/>
<line x1="130.35" y1="75.80" x2="132.05" y2="75.80" stroke="#231f20" stroke-width="0.55" stroke-linecap="butt"/>
<line x1="141.10" y1="63.80" x2="141.10" y2="70.40" stroke="#231f20" stroke-width="0.55" stroke-linecap="butt"/>
<line x1="140.25" y1="63.80" x2="141.95" y2="63.80" stroke="#231f20" stroke-width="0.55" stroke-linecap="butt"/>
<line x1="140.25" y1="70.40" x2="141.95" y2="70.40" stroke="#231f20" stroke-width="0.55" stroke-linecap="butt"/>
<line x1="125.30" y1="56.65" x2="125.30" y2="97.95" stroke="#231f20" stroke-width="0.75" stroke-linecap="butt"/>
<line x1="124.95" y1="97.60" x2="146.50" y2="97.60" stroke="#231f20" stroke-width="0.75" stroke-linecap="butt"/>
<line x1="122.50" y1="97.60" x2="125.30" y2="97.60" stroke="#231f20" stroke-width="0.75" stroke-linecap="butt"/>
<text x="121.40" y="100.24" font-size="6.5" fill="#231f20" stroke="#231f20" stroke-width="0.12" text-anchor="end">0</text>
<line x1="122.50" y1="84.07" x2="125.30" y2="84.07" stroke="#231f20" stroke-width="0.75" stroke-linecap="butt"/>
<text x="121.40" y="86.71" font-size="6.5" fill="#231f20" stroke="#231f20" stroke-width="0.12" text-anchor="end">500</text>
<line x1="122.50" y1="70.53" x2="125.30" y2="70.53" stroke="#231f20" stroke-width="0.75" stroke-linecap="butt"/>
<text x="121.40" y="73.17" font-size="6.5" fill="#231f20" stroke="#231f20" stroke-width="0.12" text-anchor="end">1,000</text>
<line x1="122.50" y1="57.00" x2="125.30" y2="57.00" stroke="#231f20" stroke-width="0.75" stroke-linecap="butt"/>
<text x="121.40" y="59.64" font-size="6.5" fill="#231f20" stroke="#231f20" stroke-width="0.12" text-anchor="end">1,500</text>
<text x="130.80" y="66.84" font-size="5.1" fill="#cf2a2e" text-anchor="middle">932</text>
<text x="141.60" y="61.84" font-size="5.1" fill="#7985c9" text-anchor="middle">1,136</text>
<text transform="translate(95.30,78.00) rotate(-90)" font-size="6.4" fill="#231f20" stroke="#231f20" stroke-width="0.12" text-anchor="middle">Number of</text>
<text transform="translate(103.30,78.00) rotate(-90)" font-size="6.4" fill="#231f20" stroke="#231f20" stroke-width="0.12" text-anchor="middle">mutations</text>
<rect x="190.30" y="66.50" width="5.90" height="31.10" fill="#c4161c"/>
<line x1="193.20" y1="61.00" x2="193.20" y2="71.50" stroke="#231f20" stroke-width="0.55" stroke-linecap="butt"/>
<line x1="192.35" y1="61.00" x2="194.05" y2="61.00" stroke="#231f20" stroke-width="0.55" stroke-linecap="butt"/>
<line x1="192.35" y1="71.50" x2="194.05" y2="71.50" stroke="#231f20" stroke-width="0.55" stroke-linecap="butt"/>
<line x1="187.70" y1="56.65" x2="187.70" y2="97.95" stroke="#231f20" stroke-width="0.75" stroke-linecap="butt"/>
<line x1="187.35" y1="97.60" x2="209.20" y2="97.60" stroke="#231f20" stroke-width="0.75" stroke-linecap="butt"/>
<line x1="184.90" y1="97.60" x2="187.70" y2="97.60" stroke="#231f20" stroke-width="0.75" stroke-linecap="butt"/>
<text x="183.80" y="100.24" font-size="6.5" fill="#231f20" stroke="#231f20" stroke-width="0.12" text-anchor="end">0</text>
<line x1="184.90" y1="84.07" x2="187.70" y2="84.07" stroke="#231f20" stroke-width="0.75" stroke-linecap="butt"/>
<text x="183.80" y="86.71" font-size="6.5" fill="#231f20" stroke="#231f20" stroke-width="0.12" text-anchor="end">100</text>
<line x1="184.90" y1="70.53" x2="187.70" y2="70.53" stroke="#231f20" stroke-width="0.75" stroke-linecap="butt"/>
<text x="183.80" y="73.17" font-size="6.5" fill="#231f20" stroke="#231f20" stroke-width="0.12" text-anchor="end">200</text>
<line x1="184.90" y1="57.00" x2="187.70" y2="57.00" stroke="#231f20" stroke-width="0.75" stroke-linecap="butt"/>
<text x="183.80" y="59.64" font-size="6.5" fill="#231f20" stroke="#231f20" stroke-width="0.12" text-anchor="end">300</text>
<text x="189.90" y="60.34" font-size="5.1" fill="#cf2a2e" text-anchor="start">232.99</text>
<text x="199.00" y="95.84" font-size="5.1" fill="#7985c9" text-anchor="start">0.23</text>
<text transform="translate(161.30,77.30) rotate(-90)" font-size="6.4" fill="#231f20" stroke="#231f20" stroke-width="0.12" text-anchor="middle">Mutation rate</text>
<text transform="translate(170.00,77.30) rotate(-90)" font-size="6.4" fill="#231f20" stroke="#231f20" stroke-width="0.12" text-anchor="middle">(muts/day)</text>
<rect x="192.80" y="172.40" width="6.20" height="12.10" fill="#c4161c"/>
<rect x="202.80" y="154.20" width="6.20" height="30.30" fill="#6675bd"/>
<line x1="195.90" y1="168.00" x2="195.90" y2="176.50" stroke="#231f20" stroke-width="0.55" stroke-linecap="butt"/>
<line x1="195.05" y1="168.00" x2="196.75" y2="168.00" stroke="#231f20" stroke-width="0.55" stroke-linecap="butt"/>
<line x1="195.05" y1="176.50" x2="196.75" y2="176.50" stroke="#231f20" stroke-width="0.55" stroke-linecap="butt"/>
<line x1="205.90" y1="151.00" x2="205.90" y2="157.30" stroke="#231f20" stroke-width="0.55" stroke-linecap="butt"/>
<line x1="205.05" y1="151.00" x2="206.75" y2="151.00" stroke="#231f20" stroke-width="0.55" stroke-linecap="butt"/>
<line x1="205.05" y1="157.30" x2="206.75" y2="157.30" stroke="#231f20" stroke-width="0.55" stroke-linecap="butt"/>
<line x1="189.70" y1="142.15" x2="189.70" y2="184.85" stroke="#231f20" stroke-width="0.75" stroke-linecap="butt"/>
<line x1="189.35" y1="184.50" x2="211.50" y2="184.50" stroke="#231f20" stroke-width="0.75" stroke-linecap="butt"/>
<line x1="186.90" y1="184.50" x2="189.70" y2="184.50" stroke="#231f20" stroke-width="0.75" stroke-linecap="butt"/>
<text x="185.80" y="187.14" font-size="6.5" fill="#231f20" stroke="#231f20" stroke-width="0.12" text-anchor="end">0</text>
<line x1="186.90" y1="174.00" x2="189.70" y2="174.00" stroke="#231f20" stroke-width="0.75" stroke-linecap="butt"/>
<text x="185.80" y="176.64" font-size="6.5" fill="#231f20" stroke="#231f20" stroke-width="0.12" text-anchor="end">200</text>
<line x1="186.90" y1="163.50" x2="189.70" y2="163.50" stroke="#231f20" stroke-width="0.75" stroke-linecap="butt"/>
<text x="185.80" y="166.14" font-size="6.5" fill="#231f20" stroke="#231f20" stroke-width="0.12" text-anchor="end">400</text>
<line x1="186.90" y1="153.00" x2="189.70" y2="153.00" stroke="#231f20" stroke-width="0.75" stroke-linecap="butt"/>
<text x="185.80" y="155.64" font-size="6.5" fill="#231f20" stroke="#231f20" stroke-width="0.12" text-anchor="end">600</text>
<line x1="186.90" y1="142.50" x2="189.70" y2="142.50" stroke="#231f20" stroke-width="0.75" stroke-linecap="butt"/>
<text x="185.80" y="145.14" font-size="6.5" fill="#231f20" stroke="#231f20" stroke-width="0.12" text-anchor="end">800</text>
<text x="195.40" y="166.84" font-size="5.1" fill="#cf2a2e" text-anchor="middle">237</text>
<text x="205.70" y="149.84" font-size="5.1" fill="#7985c9" text-anchor="middle">585</text>
<text transform="translate(163.10,164.00) rotate(-90)" font-size="6.4" fill="#231f20" stroke="#231f20" stroke-width="0.12" text-anchor="middle">Number of</text>
<text transform="translate(170.30,164.00) rotate(-90)" font-size="6.4" fill="#231f20" stroke="#231f20" stroke-width="0.12" text-anchor="middle">mutations</text>
<rect x="252.40" y="154.30" width="5.60" height="30.50" fill="#c4161c"/>
<line x1="255.20" y1="144.80" x2="255.20" y2="163.50" stroke="#231f20" stroke-width="0.55" stroke-linecap="butt"/>
<line x1="254.35" y1="144.80" x2="256.05" y2="144.80" stroke="#231f20" stroke-width="0.55" stroke-linecap="butt"/>
<line x1="254.35" y1="163.50" x2="256.05" y2="163.50" stroke="#231f20" stroke-width="0.55" stroke-linecap="butt"/>
<line x1="249.90" y1="142.15" x2="249.90" y2="185.15" stroke="#231f20" stroke-width="0.75" stroke-linecap="butt"/>
<line x1="249.55" y1="184.80" x2="270.90" y2="184.80" stroke="#231f20" stroke-width="0.75" stroke-linecap="butt"/>
<line x1="247.10" y1="184.80" x2="249.90" y2="184.80" stroke="#231f20" stroke-width="0.75" stroke-linecap="butt"/>
<text x="246.00" y="187.44" font-size="6.5" fill="#231f20" stroke="#231f20" stroke-width="0.12" text-anchor="end">0</text>
<line x1="247.10" y1="163.65" x2="249.90" y2="163.65" stroke="#231f20" stroke-width="0.75" stroke-linecap="butt"/>
<text x="246.00" y="166.29" font-size="6.5" fill="#231f20" stroke="#231f20" stroke-width="0.12" text-anchor="end">20</text>
<line x1="247.10" y1="142.50" x2="249.90" y2="142.50" stroke="#231f20" stroke-width="0.75" stroke-linecap="butt"/>
<text x="246.00" y="145.14" font-size="6.5" fill="#231f20" stroke="#231f20" stroke-width="0.12" text-anchor="end">40</text>
<text x="251.60" y="141.84" font-size="5.1" fill="#cf2a2e" text-anchor="start">29.66</text>
<text x="260.60" y="182.84" font-size="5.1" fill="#7985c9" text-anchor="start">0.15</text>
<text transform="translate(227.10,163.80) rotate(-90)" font-size="6.4" fill="#231f20" stroke="#231f20" stroke-width="0.12" text-anchor="middle">Mutation rate</text>
<text transform="translate(234.70,163.80) rotate(-90)" font-size="6.4" fill="#231f20" stroke="#231f20" stroke-width="0.12" text-anchor="middle">(muts/day)</text>
<rect x="76.70" y="229.30" width="5.90" height="28.10" fill="#c4161c"/>
<rect x="86.60" y="254.90" width="5.30" height="2.50" fill="#6675bd"/>
<line x1="79.50" y1="228.00" x2="79.50" y2="231.60" stroke="#231f20" stroke-width="0.55" stroke-linecap="butt"/>
<line x1="78.65" y1="228.00" x2="80.35" y2="228.00" stroke="#231f20" stroke-width="0.55" stroke-linecap="butt"/>
<line x1="78.65" y1="231.60" x2="80.35" y2="231.60" stroke="#231f20" stroke-width="0.55" stroke-linecap="butt"/>
<line x1="89.40" y1="253.80" x2="89.40" y2="256.20" stroke="#231f20" stroke-width="0.55" stroke-linecap="butt"/>
<line x1="88.55" y1="253.80" x2="90.25" y2="253.80" stroke="#231f20" stroke-width="0.55" stroke-linecap="butt"/>
<line x1="88.55" y1="256.20" x2="90.25" y2="256.20" stroke="#231f20" stroke-width="0.55" stroke-linecap="butt"/>
<line x1="74.20" y1="214.75" x2="74.20" y2="257.75" stroke="#231f20" stroke-width="0.75" stroke-linecap="butt"/>
<line x1="73.85" y1="257.40" x2="94.80" y2="257.40" stroke="#231f20" stroke-width="0.75" stroke-linecap="butt"/>
<line x1="71.40" y1="257.40" x2="74.20" y2="257.40" stroke="#231f20" stroke-width="0.75" stroke-linecap="butt"/>
<text x="70.30" y="260.04" font-size="6.5" fill="#231f20" stroke="#231f20" stroke-width="0.12" text-anchor="end">0</text>
<line x1="71.40" y1="236.25" x2="74.20" y2="236.25" stroke="#231f20" stroke-width="0.75" stroke-linecap="butt"/>
<text x="70.30" y="238.89" font-size="6.5" fill="#231f20" stroke="#231f20" stroke-width="0.12" text-anchor="end">200</text>
<line x1="71.40" y1="215.10" x2="74.20" y2="215.10" stroke="#231f20" stroke-width="0.75" stroke-linecap="butt"/>
<text x="70.30" y="217.74" font-size="6.5" fill="#231f20" stroke="#231f20" stroke-width="0.12" text-anchor="end">400</text>
<text x="79.50" y="223.94" font-size="5.1" fill="#cf2a2e" text-anchor="middle">269</text>
<text x="89.40" y="251.24" font-size="5.1" fill="#7985c9" text-anchor="middle">25</text>
<text transform="translate(48.50,237.00) rotate(-90)" font-size="6.4" fill="#231f20" stroke="#231f20" stroke-width="0.12" text-anchor="middle">Number of</text>
<text transform="translate(56.10,237.00) rotate(-90)" font-size="6.4" fill="#231f20" stroke="#231f20" stroke-width="0.12" text-anchor="middle">mutations</text>
<rect x="134.60" y="233.90" width="5.60" height="23.50" fill="#c4161c"/>
<line x1="137.50" y1="232.60" x2="137.50" y2="235.60" stroke="#231f20" stroke-width="0.55" stroke-linecap="butt"/>
<line x1="136.65" y1="232.60" x2="138.35" y2="232.60" stroke="#231f20" stroke-width="0.55" stroke-linecap="butt"/>
<line x1="136.65" y1="235.60" x2="138.35" y2="235.60" stroke="#231f20" stroke-width="0.55" stroke-linecap="butt"/>
<line x1="131.30" y1="215.15" x2="131.30" y2="257.75" stroke="#231f20" stroke-width="0.75" stroke-linecap="butt"/>
<line x1="130.95" y1="257.40" x2="152.60" y2="257.40" stroke="#231f20" stroke-width="0.75" stroke-linecap="butt"/>
<line x1="128.50" y1="257.40" x2="131.30" y2="257.40" stroke="#231f20" stroke-width="0.75" stroke-linecap="butt"/>
<text x="127.40" y="260.04" font-size="6.5" fill="#231f20" stroke="#231f20" stroke-width="0.12" text-anchor="end">0</text>
<line x1="128.50" y1="243.43" x2="131.30" y2="243.43" stroke="#231f20" stroke-width="0.75" stroke-linecap="butt"/>
<text x="127.40" y="246.07" font-size="6.5" fill="#231f20" stroke="#231f20" stroke-width="0.12" text-anchor="end">10</text>
<line x1="128.50" y1="229.47" x2="131.30" y2="229.47" stroke="#231f20" stroke-width="0.75" stroke-linecap="butt"/>
<text x="127.40" y="232.11" font-size="6.5" fill="#231f20" stroke="#231f20" stroke-width="0.12" text-anchor="end">20</text>
<line x1="128.50" y1="215.50" x2="131.30" y2="215.50" stroke="#231f20" stroke-width="0.75" stroke-linecap="butt"/>
<text x="127.40" y="218.14" font-size="6.5" fill="#231f20" stroke="#231f20" stroke-width="0.12" text-anchor="end">30</text>
<text x="132.30" y="230.24" font-size="5.1" fill="#cf2a2e" text-anchor="start">16.82</text>
<text x="142.20" y="253.84" font-size="5.1" fill="#7985c9" text-anchor="start">0.02</text>
<text transform="translate(108.90,236.40) rotate(-90)" font-size="6.4" fill="#231f20" stroke="#231f20" stroke-width="0.12" text-anchor="middle">Mutation rate</text>
<text transform="translate(116.80,236.40) rotate(-90)" font-size="6.4" fill="#231f20" stroke="#231f20" stroke-width="0.12" text-anchor="middle">(muts/day)</text>
<rect x="197.20" y="246.50" width="5.80" height="10.70" fill="#c4161c"/>
<rect x="207.10" y="221.20" width="5.80" height="36.00" fill="#6675bd"/>
<line x1="200.10" y1="241.00" x2="200.10" y2="251.50" stroke="#231f20" stroke-width="0.55" stroke-linecap="butt"/>
<line x1="199.25" y1="241.00" x2="200.95" y2="241.00" stroke="#231f20" stroke-width="0.55" stroke-linecap="butt"/>
<line x1="199.25" y1="251.50" x2="200.95" y2="251.50" stroke="#231f20" stroke-width="0.55" stroke-linecap="butt"/>
<line x1="210.00" y1="217.60" x2="210.00" y2="225.00" stroke="#231f20" stroke-width="0.55" stroke-linecap="butt"/>
<line x1="209.15" y1="217.60" x2="210.85" y2="217.60" stroke="#231f20" stroke-width="0.55" stroke-linecap="butt"/>
<line x1="209.15" y1="225.00" x2="210.85" y2="225.00" stroke="#231f20" stroke-width="0.55" stroke-linecap="butt"/>
<line x1="194.80" y1="215.15" x2="194.80" y2="257.55" stroke="#231f20" stroke-width="0.75" stroke-linecap="butt"/>
<line x1="194.45" y1="257.20" x2="215.70" y2="257.20" stroke="#231f20" stroke-width="0.75" stroke-linecap="butt"/>
<line x1="192.00" y1="257.20" x2="194.80" y2="257.20" stroke="#231f20" stroke-width="0.75" stroke-linecap="butt"/>
<text x="190.90" y="259.84" font-size="6.5" fill="#231f20" stroke="#231f20" stroke-width="0.12" text-anchor="end">0</text>
<line x1="192.00" y1="236.35" x2="194.80" y2="236.35" stroke="#231f20" stroke-width="0.75" stroke-linecap="butt"/>
<text x="190.90" y="238.99" font-size="6.5" fill="#231f20" stroke="#231f20" stroke-width="0.12" text-anchor="end">200</text>
<line x1="192.00" y1="215.50" x2="194.80" y2="215.50" stroke="#231f20" stroke-width="0.75" stroke-linecap="butt"/>
<text x="190.90" y="218.14" font-size="6.5" fill="#231f20" stroke="#231f20" stroke-width="0.12" text-anchor="end">400</text>
<text x="200.00" y="241.14" font-size="5.1" fill="#cf2a2e" text-anchor="middle">100</text>
<text x="210.00" y="216.34" font-size="5.1" fill="#7985c9" text-anchor="middle">343</text>
<text transform="translate(168.50,236.00) rotate(-90)" font-size="6.4" fill="#231f20" stroke="#231f20" stroke-width="0.12" text-anchor="middle">Number of</text>
<text transform="translate(175.70,236.00) rotate(-90)" font-size="6.4" fill="#231f20" stroke="#231f20" stroke-width="0.12" text-anchor="middle">mutations</text>
<rect x="253.00" y="230.70" width="5.70" height="26.70" fill="#c4161c"/>
<line x1="255.80" y1="220.20" x2="255.80" y2="241.20" stroke="#231f20" stroke-width="0.55" stroke-linecap="butt"/>
<line x1="254.95" y1="220.20" x2="256.65" y2="220.20" stroke="#231f20" stroke-width="0.55" stroke-linecap="butt"/>
<line x1="254.95" y1="241.20" x2="256.65" y2="241.20" stroke="#231f20" stroke-width="0.55" stroke-linecap="butt"/>
<line x1="249.90" y1="215.15" x2="249.90" y2="257.75" stroke="#231f20" stroke-width="0.75" stroke-linecap="butt"/>
<line x1="249.55" y1="257.40" x2="271.40" y2="257.40" stroke="#231f20" stroke-width="0.75" stroke-linecap="butt"/>
<line x1="247.10" y1="257.40" x2="249.90" y2="257.40" stroke="#231f20" stroke-width="0.75" stroke-linecap="butt"/>
<text x="246.00" y="260.04" font-size="6.5" fill="#231f20" stroke="#231f20" stroke-width="0.12" text-anchor="end">0</text>
<line x1="247.10" y1="236.45" x2="249.90" y2="236.45" stroke="#231f20" stroke-width="0.75" stroke-linecap="butt"/>
<text x="246.00" y="239.09" font-size="6.5" fill="#231f20" stroke="#231f20" stroke-width="0.12" text-anchor="end">10</text>
<line x1="247.10" y1="215.50" x2="249.90" y2="215.50" stroke="#231f20" stroke-width="0.75" stroke-linecap="butt"/>
<text x="246.00" y="218.14" font-size="6.5" fill="#231f20" stroke="#231f20" stroke-width="0.12" text-anchor="end">20</text>
<text x="253.50" y="217.34" font-size="5.1" fill="#cf2a2e" text-anchor="start">12.52</text>
<text x="263.30" y="248.14" font-size="5.1" fill="#7985c9" text-anchor="start">0.09</text>
<text transform="translate(227.10,237.00) rotate(-90)" font-size="6.4" fill="#231f20" stroke="#231f20" stroke-width="0.12" text-anchor="middle">Mutation rate</text>
<text transform="translate(234.70,237.00) rotate(-90)" font-size="6.4" fill="#231f20" stroke="#231f20" stroke-width="0.12" text-anchor="middle">(muts/day)</text>
<rect x="410.60" y="179.80" width="6.00" height="5.90" fill="#c4161c"/>
<rect x="420.20" y="151.40" width="6.10" height="34.30" fill="#6675bd"/>
<line x1="413.30" y1="177.50" x2="413.30" y2="183.30" stroke="#231f20" stroke-width="0.55" stroke-linecap="butt"/>
<line x1="412.45" y1="177.50" x2="414.15" y2="177.50" stroke="#231f20" stroke-width="0.55" stroke-linecap="butt"/>
<line x1="412.45" y1="183.30" x2="414.15" y2="183.30" stroke="#231f20" stroke-width="0.55" stroke-linecap="butt"/>
<line x1="423.40" y1="148.50" x2="423.40" y2="154.30" stroke="#231f20" stroke-width="0.55" stroke-linecap="butt"/>
<line x1="422.55" y1="148.50" x2="424.25" y2="148.50" stroke="#231f20" stroke-width="0.55" stroke-linecap="butt"/>
<line x1="422.55" y1="154.30" x2="424.25" y2="154.30" stroke="#231f20" stroke-width="0.55" stroke-linecap="butt"/>
<line x1="407.50" y1="144.45" x2="407.50" y2="186.05" stroke="#231f20" stroke-width="0.75" stroke-linecap="butt"/>
<line x1="407.15" y1="185.70" x2="428.80" y2="185.70" stroke="#231f20" stroke-width="0.75" stroke-linecap="butt"/>
<line x1="404.70" y1="185.70" x2="407.50" y2="185.70" stroke="#231f20" stroke-width="0.75" stroke-linecap="butt"/>
<text x="403.60" y="188.34" font-size="6.5" fill="#231f20" stroke="#231f20" stroke-width="0.12" text-anchor="end">0</text>
<line x1="404.70" y1="175.47" x2="407.50" y2="175.47" stroke="#231f20" stroke-width="0.75" stroke-linecap="butt"/>
<text x="403.60" y="178.12" font-size="6.5" fill="#231f20" stroke="#231f20" stroke-width="0.12" text-anchor="end">200</text>
<line x1="404.70" y1="165.25" x2="407.50" y2="165.25" stroke="#231f20" stroke-width="0.75" stroke-linecap="butt"/>
<text x="403.60" y="167.89" font-size="6.5" fill="#231f20" stroke="#231f20" stroke-width="0.12" text-anchor="end">400</text>
<line x1="404.70" y1="155.03" x2="407.50" y2="155.03" stroke="#231f20" stroke-width="0.75" stroke-linecap="butt"/>
<text x="403.60" y="157.67" font-size="6.5" fill="#231f20" stroke="#231f20" stroke-width="0.12" text-anchor="end">600</text>
<line x1="404.70" y1="144.80" x2="407.50" y2="144.80" stroke="#231f20" stroke-width="0.75" stroke-linecap="butt"/>
<text x="403.60" y="147.44" font-size="6.5" fill="#231f20" stroke="#231f20" stroke-width="0.12" text-anchor="end">800</text>
<text x="413.20" y="175.14" font-size="5.1" fill="#cf2a2e" text-anchor="middle">106</text>
<text x="423.50" y="146.94" font-size="5.1" fill="#7985c9" text-anchor="middle">670</text>
<text transform="translate(382.30,165.00) rotate(-90)" font-size="6.4" fill="#231f20" stroke="#231f20" stroke-width="0.12" text-anchor="middle">Number of</text>
<text transform="translate(390.30,165.00) rotate(-90)" font-size="6.4" fill="#231f20" stroke="#231f20" stroke-width="0.12" text-anchor="middle">mutations</text>
<rect x="469.00" y="166.30" width="5.70" height="19.00" fill="#c4161c"/>
<line x1="471.80" y1="155.20" x2="471.80" y2="177.40" stroke="#231f20" stroke-width="0.55" stroke-linecap="butt"/>
<line x1="470.95" y1="155.20" x2="472.65" y2="155.20" stroke="#231f20" stroke-width="0.55" stroke-linecap="butt"/>
<line x1="470.95" y1="177.40" x2="472.65" y2="177.40" stroke="#231f20" stroke-width="0.55" stroke-linecap="butt"/>
<line x1="465.70" y1="143.45" x2="465.70" y2="185.65" stroke="#231f20" stroke-width="0.75" stroke-linecap="butt"/>
<line x1="465.35" y1="185.30" x2="486.70" y2="185.30" stroke="#231f20" stroke-width="0.75" stroke-linecap="butt"/>
<line x1="462.90" y1="185.30" x2="465.70" y2="185.30" stroke="#231f20" stroke-width="0.75" stroke-linecap="butt"/>
<text x="461.80" y="187.94" font-size="6.5" fill="#231f20" stroke="#231f20" stroke-width="0.12" text-anchor="end">0</text>
<line x1="462.90" y1="171.47" x2="465.70" y2="171.47" stroke="#231f20" stroke-width="0.75" stroke-linecap="butt"/>
<text x="461.80" y="174.11" font-size="6.5" fill="#231f20" stroke="#231f20" stroke-width="0.12" text-anchor="end">10</text>
<line x1="462.90" y1="157.63" x2="465.70" y2="157.63" stroke="#231f20" stroke-width="0.75" stroke-linecap="butt"/>
<text x="461.80" y="160.27" font-size="6.5" fill="#231f20" stroke="#231f20" stroke-width="0.12" text-anchor="end">20</text>
<line x1="462.90" y1="143.80" x2="465.70" y2="143.80" stroke="#231f20" stroke-width="0.75" stroke-linecap="butt"/>
<text x="461.80" y="146.44" font-size="6.5" fill="#231f20" stroke="#231f20" stroke-width="0.12" text-anchor="end">30</text>
<text x="468.40" y="152.34" font-size="5.1" fill="#cf2a2e" text-anchor="start">13.28</text>
<text x="476.80" y="179.94" font-size="5.1" fill="#7985c9" text-anchor="start">0.17</text>
<text transform="translate(444.80,164.00) rotate(-90)" font-size="6.4" fill="#231f20" stroke="#231f20" stroke-width="0.12" text-anchor="middle">Mutation rate</text>
<text transform="translate(452.40,164.00) rotate(-90)" font-size="6.4" fill="#231f20" stroke="#231f20" stroke-width="0.12" text-anchor="middle">(muts/day)</text>
<rect x="410.60" y="245.20" width="6.00" height="11.80" fill="#c4161c"/>
<rect x="420.20" y="229.60" width="6.10" height="27.40" fill="#6675bd"/>
<line x1="413.30" y1="241.00" x2="413.30" y2="249.40" stroke="#231f20" stroke-width="0.55" stroke-linecap="butt"/>
<line x1="412.45" y1="241.00" x2="414.15" y2="241.00" stroke="#231f20" stroke-width="0.55" stroke-linecap="butt"/>
<line x1="412.45" y1="249.40" x2="414.15" y2="249.40" stroke="#231f20" stroke-width="0.55" stroke-linecap="butt"/>
<line x1="423.40" y1="225.00" x2="423.40" y2="234.20" stroke="#231f20" stroke-width="0.55" stroke-linecap="butt"/>
<line x1="422.55" y1="225.00" x2="424.25" y2="225.00" stroke="#231f20" stroke-width="0.55" stroke-linecap="butt"/>
<line x1="422.55" y1="234.20" x2="424.25" y2="234.20" stroke="#231f20" stroke-width="0.55" stroke-linecap="butt"/>
<line x1="407.50" y1="214.45" x2="407.50" y2="257.35" stroke="#231f20" stroke-width="0.75" stroke-linecap="butt"/>
<line x1="407.15" y1="257.00" x2="428.80" y2="257.00" stroke="#231f20" stroke-width="0.75" stroke-linecap="butt"/>
<line x1="404.70" y1="257.00" x2="407.50" y2="257.00" stroke="#231f20" stroke-width="0.75" stroke-linecap="butt"/>
<text x="403.60" y="259.64" font-size="6.5" fill="#231f20" stroke="#231f20" stroke-width="0.12" text-anchor="end">0</text>
<line x1="404.70" y1="235.90" x2="407.50" y2="235.90" stroke="#231f20" stroke-width="0.75" stroke-linecap="butt"/>
<text x="403.60" y="238.54" font-size="6.5" fill="#231f20" stroke="#231f20" stroke-width="0.12" text-anchor="end">200</text>
<line x1="404.70" y1="214.80" x2="407.50" y2="214.80" stroke="#231f20" stroke-width="0.75" stroke-linecap="butt"/>
<text x="403.60" y="217.44" font-size="6.5" fill="#231f20" stroke="#231f20" stroke-width="0.12" text-anchor="end">400</text>
<text x="413.20" y="238.54" font-size="5.1" fill="#cf2a2e" text-anchor="middle">117</text>
<text x="423.50" y="223.24" font-size="5.1" fill="#7985c9" text-anchor="middle">263</text>
<text transform="translate(382.30,236.00) rotate(-90)" font-size="6.4" fill="#231f20" stroke="#231f20" stroke-width="0.12" text-anchor="middle">Number of</text>
<text transform="translate(389.80,236.00) rotate(-90)" font-size="6.4" fill="#231f20" stroke="#231f20" stroke-width="0.12" text-anchor="middle">mutations</text>
<rect x="469.50" y="227.10" width="5.40" height="29.90" fill="#c4161c"/>
<line x1="472.20" y1="216.70" x2="472.20" y2="237.50" stroke="#231f20" stroke-width="0.55" stroke-linecap="butt"/>
<line x1="471.35" y1="216.70" x2="473.05" y2="216.70" stroke="#231f20" stroke-width="0.55" stroke-linecap="butt"/>
<line x1="471.35" y1="237.50" x2="473.05" y2="237.50" stroke="#231f20" stroke-width="0.55" stroke-linecap="butt"/>
<line x1="465.70" y1="214.45" x2="465.70" y2="257.35" stroke="#231f20" stroke-width="0.75" stroke-linecap="butt"/>
<line x1="465.35" y1="257.00" x2="486.70" y2="257.00" stroke="#231f20" stroke-width="0.75" stroke-linecap="butt"/>
<line x1="462.90" y1="257.00" x2="465.70" y2="257.00" stroke="#231f20" stroke-width="0.75" stroke-linecap="butt"/>
<text x="461.80" y="259.64" font-size="6.5" fill="#231f20" stroke="#231f20" stroke-width="0.12" text-anchor="end">0</text>
<line x1="462.90" y1="235.90" x2="465.70" y2="235.90" stroke="#231f20" stroke-width="0.75" stroke-linecap="butt"/>
<text x="461.80" y="238.54" font-size="6.5" fill="#231f20" stroke="#231f20" stroke-width="0.12" text-anchor="end">10</text>
<line x1="462.90" y1="214.80" x2="465.70" y2="214.80" stroke="#231f20" stroke-width="0.75" stroke-linecap="butt"/>
<text x="461.80" y="217.44" font-size="6.5" fill="#231f20" stroke="#231f20" stroke-width="0.12" text-anchor="end">20</text>
<text x="468.40" y="215.04" font-size="5.1" fill="#cf2a2e" text-anchor="start">14.59</text>
<text x="476.80" y="254.34" font-size="5.1" fill="#7985c9" text-anchor="start">0.07</text>
<text transform="translate(444.80,236.00) rotate(-90)" font-size="6.4" fill="#231f20" stroke="#231f20" stroke-width="0.12" text-anchor="middle">Mutation rate</text>
<text transform="translate(452.40,236.00) rotate(-90)" font-size="6.4" fill="#231f20" stroke="#231f20" stroke-width="0.12" text-anchor="middle">(muts/day)</text>
<rect x="410.60" y="312.90" width="6.00" height="9.70" fill="#c4161c"/>
<rect x="420.20" y="287.30" width="6.10" height="35.30" fill="#6675bd"/>
<line x1="413.30" y1="309.00" x2="413.30" y2="318.40" stroke="#231f20" stroke-width="0.55" stroke-linecap="butt"/>
<line x1="412.45" y1="309.00" x2="414.15" y2="309.00" stroke="#231f20" stroke-width="0.55" stroke-linecap="butt"/>
<line x1="412.45" y1="318.40" x2="414.15" y2="318.40" stroke="#231f20" stroke-width="0.55" stroke-linecap="butt"/>
<line x1="423.40" y1="284.50" x2="423.40" y2="291.10" stroke="#231f20" stroke-width="0.55" stroke-linecap="butt"/>
<line x1="422.55" y1="284.50" x2="424.25" y2="284.50" stroke="#231f20" stroke-width="0.55" stroke-linecap="butt"/>
<line x1="422.55" y1="291.10" x2="424.25" y2="291.10" stroke="#231f20" stroke-width="0.55" stroke-linecap="butt"/>
<line x1="407.50" y1="280.35" x2="407.50" y2="322.95" stroke="#231f20" stroke-width="0.75" stroke-linecap="butt"/>
<line x1="407.15" y1="322.60" x2="428.80" y2="322.60" stroke="#231f20" stroke-width="0.75" stroke-linecap="butt"/>
<line x1="404.70" y1="322.60" x2="407.50" y2="322.60" stroke="#231f20" stroke-width="0.75" stroke-linecap="butt"/>
<text x="403.60" y="325.24" font-size="6.5" fill="#231f20" stroke="#231f20" stroke-width="0.12" text-anchor="end">0</text>
<line x1="404.70" y1="312.12" x2="407.50" y2="312.12" stroke="#231f20" stroke-width="0.75" stroke-linecap="butt"/>
<text x="403.60" y="314.76" font-size="6.5" fill="#231f20" stroke="#231f20" stroke-width="0.12" text-anchor="end">200</text>
<line x1="404.70" y1="301.65" x2="407.50" y2="301.65" stroke="#231f20" stroke-width="0.75" stroke-linecap="butt"/>
<text x="403.60" y="304.29" font-size="6.5" fill="#231f20" stroke="#231f20" stroke-width="0.12" text-anchor="end">400</text>
<line x1="404.70" y1="291.18" x2="407.50" y2="291.18" stroke="#231f20" stroke-width="0.75" stroke-linecap="butt"/>
<text x="403.60" y="293.81" font-size="6.5" fill="#231f20" stroke="#231f20" stroke-width="0.12" text-anchor="end">600</text>
<line x1="404.70" y1="280.70" x2="407.50" y2="280.70" stroke="#231f20" stroke-width="0.75" stroke-linecap="butt"/>
<text x="403.60" y="283.34" font-size="6.5" fill="#231f20" stroke="#231f20" stroke-width="0.12" text-anchor="end">800</text>
<text x="413.20" y="307.84" font-size="5.1" fill="#cf2a2e" text-anchor="middle">184</text>
<text x="423.00" y="282.54" font-size="5.1" fill="#7985c9" text-anchor="middle">686</text>
<text transform="translate(382.80,302.00) rotate(-90)" font-size="6.4" fill="#231f20" stroke="#231f20" stroke-width="0.12" text-anchor="middle">Number of</text>
<text transform="translate(390.30,302.00) rotate(-90)" font-size="6.4" fill="#231f20" stroke="#231f20" stroke-width="0.12" text-anchor="middle">mutations</text>
<rect x="469.50" y="298.80" width="5.40" height="24.00" fill="#c4161c"/>
<line x1="472.20" y1="288.30" x2="472.20" y2="309.30" stroke="#231f20" stroke-width="0.55" stroke-linecap="butt"/>
<line x1="471.35" y1="288.30" x2="473.05" y2="288.30" stroke="#231f20" stroke-width="0.55" stroke-linecap="butt"/>
<line x1="471.35" y1="309.30" x2="473.05" y2="309.30" stroke="#231f20" stroke-width="0.55" stroke-linecap="butt"/>
<line x1="465.70" y1="279.75" x2="465.70" y2="323.15" stroke="#231f20" stroke-width="0.75" stroke-linecap="butt"/>
<line x1="465.35" y1="322.80" x2="486.70" y2="322.80" stroke="#231f20" stroke-width="0.75" stroke-linecap="butt"/>
<line x1="462.90" y1="322.80" x2="465.70" y2="322.80" stroke="#231f20" stroke-width="0.75" stroke-linecap="butt"/>
<text x="461.80" y="325.44" font-size="6.5" fill="#231f20" stroke="#231f20" stroke-width="0.12" text-anchor="end">0</text>
<line x1="462.90" y1="301.45" x2="465.70" y2="301.45" stroke="#231f20" stroke-width="0.75" stroke-linecap="butt"/>
<text x="461.80" y="304.09" font-size="6.5" fill="#231f20" stroke="#231f20" stroke-width="0.12" text-anchor="end">20</text>
<line x1="462.90" y1="280.10" x2="465.70" y2="280.10" stroke="#231f20" stroke-width="0.75" stroke-linecap="butt"/>
<text x="461.80" y="282.74" font-size="6.5" fill="#231f20" stroke="#231f20" stroke-width="0.12" text-anchor="end">40</text>
<text x="468.80" y="286.94" font-size="5.1" fill="#cf2a2e" text-anchor="start">23.0</text>
<text x="477.80" y="319.34" font-size="5.1" fill="#7985c9" text-anchor="start">0.18</text>
<text transform="translate(444.80,302.00) rotate(-90)" font-size="6.4" fill="#231f20" stroke="#231f20" stroke-width="0.12" text-anchor="middle">Mutation rate</text>
<text transform="translate(452.40,302.00) rotate(-90)" font-size="6.4" fill="#231f20" stroke="#231f20" stroke-width="0.12" text-anchor="middle">(muts/day)</text>
<rect x="410.60" y="391.80" width="6.00" height="3.40" fill="#c4161c"/>
<rect x="420.20" y="373.30" width="6.10" height="21.90" fill="#6675bd"/>
<line x1="413.30" y1="389.00" x2="413.30" y2="394.40" stroke="#231f20" stroke-width="0.55" stroke-linecap="butt"/>
<line x1="412.45" y1="389.00" x2="414.15" y2="389.00" stroke="#231f20" stroke-width="0.55" stroke-linecap="butt"/>
<line x1="412.45" y1="394.40" x2="414.15" y2="394.40" stroke="#231f20" stroke-width="0.55" stroke-linecap="butt"/>
<line x1="423.40" y1="371.00" x2="423.40" y2="375.60" stroke="#231f20" stroke-width="0.55" stroke-linecap="butt"/>
<line x1="422.55" y1="371.00" x2="424.25" y2="371.00" stroke="#231f20" stroke-width="0.55" stroke-linecap="butt"/>
<line x1="422.55" y1="375.60" x2="424.25" y2="375.60" stroke="#231f20" stroke-width="0.55" stroke-linecap="butt"/>
<line x1="407.50" y1="352.35" x2="407.50" y2="395.55" stroke="#231f20" stroke-width="0.75" stroke-linecap="butt"/>
<line x1="407.15" y1="395.20" x2="428.80" y2="395.20" stroke="#231f20" stroke-width="0.75" stroke-linecap="butt"/>
<line x1="404.70" y1="395.20" x2="407.50" y2="395.20" stroke="#231f20" stroke-width="0.75" stroke-linecap="butt"/>
<text x="403.60" y="397.84" font-size="6.5" fill="#231f20" stroke="#231f20" stroke-width="0.12" text-anchor="end">0</text>
<line x1="404.70" y1="373.95" x2="407.50" y2="373.95" stroke="#231f20" stroke-width="0.75" stroke-linecap="butt"/>
<text x="403.60" y="376.59" font-size="6.5" fill="#231f20" stroke="#231f20" stroke-width="0.12" text-anchor="end">200</text>
<line x1="404.70" y1="352.70" x2="407.50" y2="352.70" stroke="#231f20" stroke-width="0.75" stroke-linecap="butt"/>
<text x="403.60" y="355.34" font-size="6.5" fill="#231f20" stroke="#231f20" stroke-width="0.12" text-anchor="end">400</text>
<text x="413.60" y="387.84" font-size="5.1" fill="#cf2a2e" text-anchor="middle">39</text>
<text x="423.00" y="369.24" font-size="5.1" fill="#7985c9" text-anchor="middle">210</text>
<text transform="translate(382.80,374.00) rotate(-90)" font-size="6.4" fill="#231f20" stroke="#231f20" stroke-width="0.12" text-anchor="middle">Number of</text>
<text transform="translate(390.30,374.00) rotate(-90)" font-size="6.4" fill="#231f20" stroke="#231f20" stroke-width="0.12" text-anchor="middle">mutations</text>
<rect x="469.00" y="375.00" width="5.70" height="20.40" fill="#c4161c"/>
<line x1="471.80" y1="364.10" x2="471.80" y2="386.00" stroke="#231f20" stroke-width="0.55" stroke-linecap="butt"/>
<line x1="470.95" y1="364.10" x2="472.65" y2="364.10" stroke="#231f20" stroke-width="0.55" stroke-linecap="butt"/>
<line x1="470.95" y1="386.00" x2="472.65" y2="386.00" stroke="#231f20" stroke-width="0.55" stroke-linecap="butt"/>
<line x1="465.30" y1="352.35" x2="465.30" y2="395.75" stroke="#231f20" stroke-width="0.75" stroke-linecap="butt"/>
<line x1="464.95" y1="395.40" x2="486.70" y2="395.40" stroke="#231f20" stroke-width="0.75" stroke-linecap="butt"/>
<line x1="462.50" y1="395.40" x2="465.30" y2="395.40" stroke="#231f20" stroke-width="0.75" stroke-linecap="butt"/>
<text x="461.40" y="398.04" font-size="6.5" fill="#231f20" stroke="#231f20" stroke-width="0.12" text-anchor="end">0</text>
<line x1="462.50" y1="374.05" x2="465.30" y2="374.05" stroke="#231f20" stroke-width="0.75" stroke-linecap="butt"/>
<text x="461.40" y="376.69" font-size="6.5" fill="#231f20" stroke="#231f20" stroke-width="0.12" text-anchor="end">5</text>
<line x1="462.50" y1="352.70" x2="465.30" y2="352.70" stroke="#231f20" stroke-width="0.75" stroke-linecap="butt"/>
<text x="461.40" y="355.34" font-size="6.5" fill="#231f20" stroke="#231f20" stroke-width="0.12" text-anchor="end">10</text>
<text x="468.40" y="361.64" font-size="5.1" fill="#cf2a2e" text-anchor="start">4.86</text>
<text x="476.80" y="391.74" font-size="5.1" fill="#7985c9" text-anchor="start">0.06</text>
<text transform="translate(444.80,374.00) rotate(-90)" font-size="6.4" fill="#231f20" stroke="#231f20" stroke-width="0.12" text-anchor="middle">Mutation rate</text>
<text transform="translate(452.40,374.00) rotate(-90)" font-size="6.4" fill="#231f20" stroke="#231f20" stroke-width="0.12" text-anchor="middle">(muts/day)</text>
<rect x="85.50" y="370.40" width="6.10" height="21.40" fill="#6675bd"/>
<line x1="88.50" y1="368.60" x2="88.50" y2="372.40" stroke="#231f20" stroke-width="0.55" stroke-linecap="butt"/>
<line x1="87.65" y1="368.60" x2="89.35" y2="368.60" stroke="#231f20" stroke-width="0.55" stroke-linecap="butt"/>
<line x1="87.65" y1="372.40" x2="89.35" y2="372.40" stroke="#231f20" stroke-width="0.55" stroke-linecap="butt"/>
<line x1="73.10" y1="350.45" x2="73.10" y2="392.15" stroke="#231f20" stroke-width="0.75" stroke-linecap="butt"/>
<line x1="72.75" y1="391.80" x2="95.00" y2="391.80" stroke="#231f20" stroke-width="0.75" stroke-linecap="butt"/>
<line x1="70.30" y1="391.80" x2="73.10" y2="391.80" stroke="#231f20" stroke-width="0.75" stroke-linecap="butt"/>
<text x="69.20" y="394.44" font-size="6.5" fill="#231f20" stroke="#231f20" stroke-width="0.12" text-anchor="end">0</text>
<line x1="70.30" y1="371.30" x2="73.10" y2="371.30" stroke="#231f20" stroke-width="0.75" stroke-linecap="butt"/>
<text x="69.20" y="373.94" font-size="6.5" fill="#231f20" stroke="#231f20" stroke-width="0.12" text-anchor="end">100</text>
<line x1="70.30" y1="350.80" x2="73.10" y2="350.80" stroke="#231f20" stroke-width="0.75" stroke-linecap="butt"/>
<text x="69.20" y="353.44" font-size="6.5" fill="#231f20" stroke="#231f20" stroke-width="0.12" text-anchor="end">200</text>
<text x="79.40" y="390.14" font-size="5.1" fill="#cf2a2e" text-anchor="middle">0</text>
<text x="88.90" y="368.44" font-size="5.1" fill="#7985c9" text-anchor="middle">105</text>
<text transform="translate(47.40,371.00) rotate(-90)" font-size="6.4" fill="#231f20" stroke="#231f20" stroke-width="0.12" text-anchor="middle">Number of</text>
<text transform="translate(55.60,371.00) rotate(-90)" font-size="6.4" fill="#231f20" stroke="#231f20" stroke-width="0.12" text-anchor="middle">mutations</text>
<rect x="282.60" y="376.50" width="7.60" height="13.90" fill="#6675bd"/>
<line x1="286.40" y1="373.00" x2="286.40" y2="380.20" stroke="#231f20" stroke-width="0.55" stroke-linecap="butt"/>
<line x1="285.55" y1="373.00" x2="287.25" y2="373.00" stroke="#231f20" stroke-width="0.55" stroke-linecap="butt"/>
<line x1="285.55" y1="380.20" x2="287.25" y2="380.20" stroke="#231f20" stroke-width="0.55" stroke-linecap="butt"/>
<line x1="270.20" y1="349.15" x2="270.20" y2="390.75" stroke="#231f20" stroke-width="0.75" stroke-linecap="butt"/>
<line x1="269.85" y1="390.40" x2="293.10" y2="390.40" stroke="#231f20" stroke-width="0.75" stroke-linecap="butt"/>
<line x1="267.40" y1="390.40" x2="270.20" y2="390.40" stroke="#231f20" stroke-width="0.75" stroke-linecap="butt"/>
<text x="266.30" y="393.04" font-size="6.5" fill="#231f20" stroke="#231f20" stroke-width="0.12" text-anchor="end">0</text>
<line x1="267.40" y1="376.77" x2="270.20" y2="376.77" stroke="#231f20" stroke-width="0.75" stroke-linecap="butt"/>
<text x="266.30" y="379.41" font-size="6.5" fill="#231f20" stroke="#231f20" stroke-width="0.12" text-anchor="end">50</text>
<line x1="267.40" y1="363.13" x2="270.20" y2="363.13" stroke="#231f20" stroke-width="0.75" stroke-linecap="butt"/>
<text x="266.30" y="365.77" font-size="6.5" fill="#231f20" stroke="#231f20" stroke-width="0.12" text-anchor="end">100</text>
<line x1="267.40" y1="349.50" x2="270.20" y2="349.50" stroke="#231f20" stroke-width="0.75" stroke-linecap="butt"/>
<text x="266.30" y="352.14" font-size="6.5" fill="#231f20" stroke="#231f20" stroke-width="0.12" text-anchor="end">150</text>
<text x="277.30" y="387.54" font-size="5.1" fill="#cf2a2e" text-anchor="middle">0</text>
<text x="286.40" y="374.14" font-size="5.1" fill="#7985c9" text-anchor="middle">51</text>
<text transform="translate(248.90,370.50) rotate(-90)" font-size="6.4" fill="#231f20" stroke="#231f20" stroke-width="0.12" text-anchor="middle">Number of</text>
<text transform="translate(256.30,370.50) rotate(-90)" font-size="6.4" fill="#231f20" stroke="#231f20" stroke-width="0.12" text-anchor="middle">mutations</text>
</svg>
</body></html>
